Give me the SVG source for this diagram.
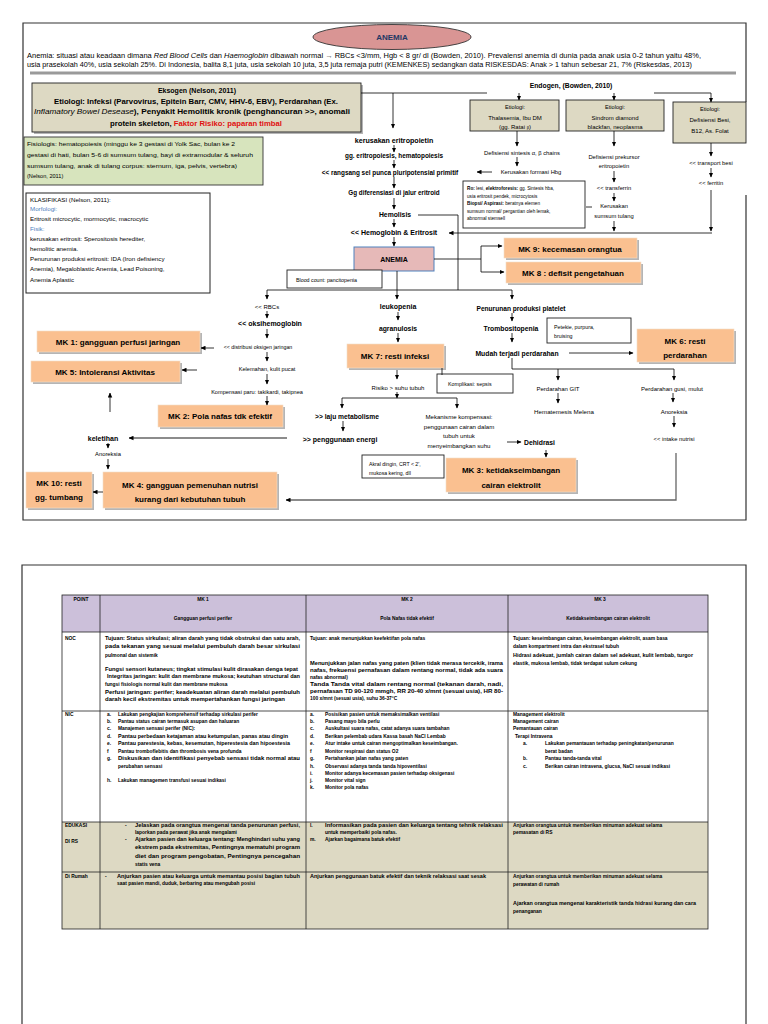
<svg xmlns="http://www.w3.org/2000/svg" width="768" height="1024" viewBox="0 0 768 1024">
<style>
text{font-family:"Liberation Sans",Arial,sans-serif;fill:#000}
.b{font-weight:bold}
.c{text-anchor:middle}
.ln{fill:none;stroke:#000;stroke-width:0.8}
.la{fill:none;stroke:#000;stroke-width:0.8;marker-end:url(#ah)}
.gl{fill:none;stroke:#666;stroke-width:1.3;marker-end:url(#ah)}
.kh{fill:#ddd9c3;stroke:#222;stroke-width:0.9}
.mk{fill:#fac090;stroke:#f2dcc8;stroke-width:0.6}
.sh{fill:#b5b5b5}
.wb{fill:#fff;stroke:#222;stroke-width:0.9}
.mt{font-weight:bold;font-size:8px;text-anchor:middle}
.tb{font-weight:bold;font-size:4.9px}
.tl{fill:none;stroke:#222;stroke-width:0.8}
.s{font-size:5.6px}
</style>
<defs>
<marker id="ah" viewBox="0 0 10 10" refX="9" refY="5" markerWidth="5" markerHeight="5" markerUnits="userSpaceOnUse" orient="auto"><path d="M0,0.5 L10,5 L0,9.5 z" fill="#000"/></marker>
</defs>
<rect width="768" height="1024" fill="#fff"/>

<path d="M746,195 V520 H23 V23 H746 V102" fill="none" stroke="#333" stroke-width="1.2"/>
<path d="M22,1024 V565 H746 V1024" fill="none" stroke="#333" stroke-width="1.2"/>

<g id="title">
<ellipse cx="392" cy="37" rx="79" ry="12.5" fill="#d99594" stroke="#333" stroke-width="0.9"/>
<text x="392" y="40" class="b c" font-size="8" style="fill:#1f3864">ANEMIA</text>
</g>

<g id="intro">
<text x="27" y="58" font-size="6.3" textLength="674" lengthAdjust="spacingAndGlyphs">Anemia: situasi atau keadaan dimana <tspan font-style="italic">Red Blood Cells</tspan> dan <tspan font-style="italic">Haemoglobin</tspan> dibawah normal → RBCs &lt;3/mm, Hgb &lt; 8 gr/ dl (Bowden, 2010).  Prevalensi anemia di dunia pada anak usia 0-2 tahun yaitu 48%,</text>
<text x="27" y="67" font-size="6.3" textLength="665" lengthAdjust="spacingAndGlyphs">usia prasekolah 40%, usia sekolah 25%. Di Indonesia, balita 8,1 juta, usia sekolah 10 juta, 3,5 juta remaja putri (KEMENKES) sedangkan data RISKESDAS: Anak &gt; 1 tahun sebesar 21, 7% (Riskesdas, 2013)</text>
<line x1="30" y1="73" x2="736" y2="73" stroke="#9a9a9a" stroke-width="3"/>
</g>

<g id="eksogen">
<rect x="34" y="85" width="329" height="49" class="sh"/>
<rect x="32" y="83" width="329" height="49" class="kh"/>
<text x="197" y="93" class="b c" font-size="7">Eksogen (Nelson, 2011)</text>
<text x="54" y="104" class="b" font-size="6.4" textLength="284" lengthAdjust="spacingAndGlyphs">Etiologi:  Infeksi (Parvovirus, Epitein Barr, CMV, HHV-6, EBV), Perdarahan (Ex.</text>
<text x="34" y="114" class="b" font-size="6.6" textLength="316" lengthAdjust="spacingAndGlyphs"><tspan font-style="italic" font-weight="normal">Inflamatory Bowel Desease</tspan>), Penyakit Hemolitik kronik (penghancuran &gt;&gt;, anomali</text>
<text x="110" y="126" class="b" font-size="6.6" textLength="172" lengthAdjust="spacingAndGlyphs">protein skeleton, <tspan style="fill:#e01010">Faktor Risiko: paparan timbal</tspan></text>
</g>

<g id="fisiologi">
<rect x="24" y="137" width="239" height="48" fill="#d7e4bd" stroke="#333" stroke-width="0.9"/>
<text x="27" y="146" class="s" textLength="208" lengthAdjust="spacingAndGlyphs">Fisiologis: hematopoiesis (minggu ke 3 gestasi di Yolk Sac, bulan ke 2</text>
<text x="27" y="157" class="s" textLength="226" lengthAdjust="spacingAndGlyphs">gestasi di hati, bulan 5-6 di sumsum tulang, bayi di extramodular &amp; seluruh</text>
<text x="27" y="168" class="s" textLength="210" lengthAdjust="spacingAndGlyphs">sumsum tulang, anak di tulang corpus: sternum, iga, pelvis, vertebra)</text>
<text x="27" y="178" class="s">(Nelson, 2011)</text>
</g>

<g id="klasifikasi">
<rect x="26" y="193" width="184" height="100" fill="#fff" stroke="#222" stroke-width="1"/>
<g font-size="6.2">
<text x="30" y="202">KLASIFIKASI (Nelson, 2011):</text>
<text x="30" y="211" style="fill:#4f81bd">Morfologi:</text>
<text x="30" y="221">Eritrosit microcytic, mormocytic, macrocytic</text>
<text x="30" y="230.5" style="fill:#4f81bd">Fisik:</text>
<text x="30" y="241">kerusakan eritrosit: Sperositosis herediter,</text>
<text x="30" y="251">hemolitic anemia.</text>
<text x="30" y="261">Penurunan produksi eritrosit: IDA (Iron defisiency</text>
<text x="30" y="271">Anemia), Megaloblastic Anemia, Lead Poisoning,</text>
<text x="30" y="282">Anemia Aplastic</text>
</g>
</g>

<g id="endogen-label"><text x="571" y="88" class="b c" font-size="6.8">Endogen, (Bowden, 2010)</text></g>

<g id="etiologi-thalasemia">
<rect x="470" y="100" width="89" height="31" class="kh"/>
<text x="515" y="109" class="c" font-size="5.6">Etiologi:</text>
<text x="515" y="120" class="c" font-size="6">Thalasemia, Ibu DM</text>
<text x="515" y="129" class="c" font-size="6">(gg. Ratai ᵦ)</text>
</g>
<g id="etiologi-sindrom">
<rect x="566" y="100" width="98" height="31" class="kh"/>
<text x="615" y="109" class="c" font-size="5.6">Etiologi:</text>
<text x="615" y="120" class="c" font-size="6">Sindrom diamond</text>
<text x="615" y="129" class="c" font-size="6">blackfan, neoplasma</text>
</g>
<g id="etiologi-defisiensi">
<rect x="673" y="102" width="73" height="41" class="kh"/>
<text x="710" y="111" class="c" font-size="5.6">Etiologi:</text>
<text x="710" y="122" class="c" font-size="6">Defisiensi Besi,</text>
<text x="710" y="133" class="c" font-size="6">B12, As. Folat</text>
</g>

<g id="endogen-chains" font-size="5.8">
<text x="522" y="155" class="c">Defisiensi sintesis α, β chains</text>
<text x="531" y="174" class="c">Kerusakan formasi Hbg</text>
<text x="614" y="159" class="c">Defisiensi prekursor</text>
<text x="614" y="168" class="c">eritropoietin</text>
<text x="614" y="190" class="c">&lt;&lt; transferrin</text>
<text x="614" y="208" class="c">Kerusakan</text>
<text x="614" y="218" class="c">sumsum tulang</text>
<text x="711" y="165" class="c">&lt;&lt; transport besi</text>
<text x="711" y="185" class="c">&lt;&lt; ferritin</text>
</g>

<g id="ro-box">
<rect x="463" y="181" width="122" height="47" class="wb"/>
<g font-size="4.7">
<text x="467" y="190"><tspan font-weight="bold">Ro:</tspan> lesi, <tspan font-weight="bold">elektroforesis:</tspan> gg. Sintesis hba,</text>
<text x="467" y="197.5">usia eritrosit pendek, microcytosis</text>
<text x="467" y="205"><tspan font-weight="bold">Biopsi/ Aspirasi:</tspan> beratnya elemen</text>
<text x="467" y="212.5">sumsum normal/ pergantian oleh lemak,</text>
<text x="467" y="220">abnormal stemsell</text>
</g>
</g>

<g id="main-chain" class="b">
<text x="394" y="142.5" class="c" font-size="7.1">kerusakan eritropoietin</text>
<text x="394" y="158" class="c" font-size="6.4">gg. eritropoiesis, hematopoiesis</text>
<text x="390" y="174.5" class="c" font-size="6.4">&lt;&lt; rangsang sel punca pluripotensial primitif</text>
<text x="394" y="195" class="c" font-size="6.3">Gg diferensiasi di jalur eritroid</text>
<text x="395" y="217" class="c" font-size="6.8">Hemolisis</text>
<text x="394" y="234.5" class="c" font-size="7">&lt;&lt; Hemoglobin &amp; Eritrosit</text>
</g>

<g id="anemia-box">
<rect x="354" y="247" width="80" height="24" fill="#e6b9b8" stroke="#4f81bd" stroke-width="1"/>
<text x="394" y="262" class="b c" font-size="7">ANEMIA</text>
</g>
<g id="blood-count">
<rect x="287" y="270" width="95" height="18" class="wb"/>
<text x="296" y="281.5" font-size="5.3">Blood count: pancitopenia</text>
</g>

<g id="mk9"><rect x="506" y="240" width="133" height="20" class="sh"/><rect x="504" y="238" width="133" height="20" class="mk"/><text x="570" y="251.5" class="mt">MK 9: kecemasan orangtua</text></g>
<g id="mk8"><rect x="508" y="264" width="135" height="21" class="sh"/><rect x="506" y="262" width="135" height="21" class="mk"/><text x="573" y="276" class="mt">MK 8 : defisit pengetahuan</text></g>

<g id="left-col">
<text x="267" y="309" class="c" font-size="6">&lt;&lt; RBCs</text>
<text x="270" y="325.5" class="b c" font-size="7">&lt;&lt; oksihemoglobin</text>
<text x="258" y="349" class="c" font-size="5.3">&lt;&lt; distribusi oksigen jaringan</text>
<text x="267" y="371" class="c" font-size="5.6">Kelemahan, kulit pucat</text>
<text x="257" y="394" class="c" font-size="5.6">Kompensasi paru: takikardi, takipnea</text>
<text x="103" y="440.5" class="b c" font-size="7">keletihan</text>
<text x="108" y="456" class="c" font-size="5.8">Anoreksia</text>
</g>
<g id="mk1"><rect x="39" y="333" width="163" height="21" class="sh"/><rect x="37" y="331" width="163" height="21" class="mk"/><text x="118" y="344.5" class="mt" font-size="7.2">MK 1: gangguan perfusi jaringan</text></g>
<g id="mk5"><rect x="33" y="363" width="149" height="21" class="sh"/><rect x="31" y="361" width="149" height="21" class="mk"/><text x="105" y="374.5" class="mt" font-size="6.8">MK 5: Intoleransi Aktivitas</text></g>
<g id="mk2"><rect x="160" y="407" width="125" height="22" class="sh"/><rect x="158" y="405" width="125" height="22" class="mk"/><text x="220" y="419" class="mt" font-size="6.8">MK 2: Pola nafas tdk efektif</text></g>
<g id="mk4"><rect x="105" y="474" width="174" height="36" class="sh"/><rect x="103" y="472" width="174" height="36" class="mk"/><text x="190" y="488" class="mt">MK 4: gangguan pemenuhan nutrisi</text><text x="190" y="502" class="mt">kurang dari kebutuhan tubuh</text></g>
<g id="mk10"><rect x="28" y="474" width="66" height="36" class="sh"/><rect x="26" y="472" width="66" height="36" class="mk"/><text x="59" y="486" class="mt" font-size="6.8">MK 10: resti</text><text x="59" y="500" class="mt" font-size="6.8">gg. tumbang</text></g>

<g id="mid-col">
<text x="398" y="309" class="b c" font-size="7">leukopenia</text>
<text x="398" y="331" class="b c" font-size="6.8">agranulosis</text>
<text x="398" y="390" class="c" font-size="6">Risiko &gt; suhu tubuh</text>
<text x="347" y="419" class="b c" font-size="6.7">&gt;&gt; laju metabolisme</text>
<text x="340" y="442" class="b c" font-size="7">&gt;&gt; penggunaan energi</text>
<text x="459" y="419" class="c" font-size="6.1">Mekanisme kompensasi:</text>
<text x="459" y="428.5" class="c" font-size="6.1">penggunaan cairan dalam</text>
<text x="459" y="438" class="c" font-size="6.1">tubuh untuk</text>
<text x="459" y="447.5" class="c" font-size="6.1">menyeimbangkan suhu</text>
<text x="524" y="445" class="b" font-size="6.8">Dehidrasi</text>
</g>
<g id="mk7"><rect x="349" y="346" width="97" height="24" class="sh"/><rect x="347" y="344" width="97" height="24" class="mk"/><text x="395" y="359" class="mt">MK 7: resti infeksi</text></g>
<g id="komplikasi"><rect x="437" y="374" width="76" height="19" class="wb"/><text x="448" y="386" font-size="5.3">Komplikasi: sepsis</text></g>
<g id="akral"><rect x="362" y="455" width="82" height="23" class="wb"/><text x="369" y="466" font-size="5.2">Akral dingin, CRT &lt; 2',</text><text x="369" y="474.5" font-size="5.2">mukosa kering, dll</text></g>
<g id="mk3"><rect x="448" y="460" width="130" height="34" class="sh"/><rect x="446" y="458" width="130" height="34" class="mk"/><text x="511" y="473" class="mt">MK 3: ketidakseimbangan</text><text x="511" y="488" class="mt">cairan elektrolit</text></g>

<g id="right-col">
<text x="521" y="311" class="b c" font-size="6.6">Penurunan produksi platelet</text>
<text x="511" y="330.5" class="b c" font-size="6.8">Trombositopenia</text>
<text x="517" y="355.5" class="b c" font-size="6.8">Mudah terjadi perdarahan</text>
<text x="558" y="391" class="c" font-size="6">Perdarahan GIT</text>
<text x="564" y="414" class="c" font-size="6.2">Hematemesis Melena</text>
<text x="672" y="391" class="c" font-size="6">Perdarahan gusi, mulut</text>
<text x="674" y="414" class="c" font-size="6">Anoreksia</text>
<text x="674" y="441" class="c" font-size="5.8">&lt;&lt; intake nutrisi</text>
</g>
<g id="petekie"><rect x="547" y="318" width="84" height="25" class="wb"/><text x="554" y="328.5" font-size="5.3">Petekie, purpura,</text><text x="554" y="338" font-size="5.3">bruising</text></g>
<g id="mk6"><rect x="639" y="331" width="97" height="33" class="sh"/><rect x="637" y="329" width="97" height="33" class="mk"/><text x="685" y="344" class="mt" font-size="8.4">MK 6: resti</text><text x="685" y="358" class="mt" font-size="8.4">perdarahan</text></g>

<g id="connectors">
<path class="ln" d="M361,93 H487 M654,93 H711"/>
<path class="la" d="M393,93 V128"/>
<path class="la" d="M519,93 V100"/>
<path class="la" d="M614,93 V100"/>
<path class="la" d="M711,93 V102"/>
<path class="la" d="M394,145 V152"/>
<path class="la" d="M394,160 V168"/>
<path class="la" d="M394,177 V188"/>
<path class="la" d="M394,198 V209"/>
<path class="la" d="M394,219 V227"/>
<path class="la" d="M394,237 V246"/>
<path class="la" d="M517,131 V146"/>
<path class="la" d="M517,157 V166"/>
<path class="la" d="M492,172 H477"/>
<path class="la" d="M614,131 V146"/>
<path class="la" d="M614,171 V182"/>
<path class="la" d="M614,193 V201"/>
<path class="la" d="M614,221 V231"/>
<path class="la" d="M711,143 V156"/>
<path class="la" d="M711,168 V177"/>
<path class="la" d="M711,190 V231"/>
<path class="la" d="M712,233 H449"/>
<path class="ln" d="M586,207 H592"/>
<path class="ln" d="M418,215 H458 V290"/>
<path class="ln" d="M434,259 H481 M481,246 V272"/>
<path class="la" d="M481,246 H502"/>
<path class="la" d="M481,272 H504"/>
<path class="ln" d="M397,271 V290 M267,290 H512"/>
<path class="la" d="M267,290 V299"/>
<path class="la" d="M397,290 V299"/>
<path class="la" d="M512,290 V299"/>
<path class="la" d="M267,311 V318"/>
<path class="la" d="M267,329 V338"/>
<path class="la" d="M214,348 H201"/>
<path class="la" d="M267,352 V361"/>
<path class="la" d="M197,370 H182"/>
<path class="la" d="M267,374 V384"/>
<path class="la" d="M267,396 V405"/>
<path class="la" d="M110,412 V393"/>
<path class="gl" d="M287,438 H129"/>
<path class="la" d="M108,443 V448"/>
<path class="la" d="M108,459 V469"/>
<path class="la" d="M103,492 H93"/>
<path class="gl" d="M676,453 V500 H286"/>
<path class="la" d="M398,312 V320"/>
<path class="la" d="M398,333 V342"/>
<path class="ln" d="M442,368 V375"/>
<path class="la" d="M397,370 V379"/>
<path class="la" d="M397,392 V398"/>
<path class="ln" d="M342,398 H457"/>
<path class="la" d="M342,398 V408"/>
<path class="la" d="M457,398 V408"/>
<path class="la" d="M343,421 V431"/>
<path class="la" d="M507,442 H521"/>
<path class="la" d="M546,450 V457"/>
<path class="la" d="M512,313 V321"/>
<path class="la" d="M512,333 V342"/>
<path class="la" d="M569,353 H633"/>
<path class="ln" d="M512,358 V369 H674"/>
<path class="la" d="M558,369 V380"/>
<path class="la" d="M674,369 V380"/>
<path class="la" d="M558,393 V403"/>
<path class="la" d="M673,393 V402"/>
<path class="la" d="M674,416 V427"/>
</g>

<g id="table">
<rect x="62" y="595" width="646" height="37" fill="#ccc0da"/>
<rect x="62" y="822" width="646" height="107" fill="#ddd9c3"/>
<rect x="62" y="595" width="646" height="334" class="tl" stroke-width="1"/>
<path class="tl" d="M100,595 V929 M306,595 V929 M508,595 V929 M62,632 H708 M62,711 H708 M62,822 H708 M62,872 H708"/>
<g class="tb">
<text x="81" y="601" class="c">POINT</text>
<text x="203" y="601" class="c">MK 1</text>
<text x="203" y="620" class="c">Gangguan perfusi perifer</text>
<text x="407" y="601" class="c">MK 2</text>
<text x="407" y="620" class="c">Pola Nafas tidak efektif</text>
<text x="600" y="601" class="c">MK 3</text>
<text x="608" y="620" class="c">Ketidakseimbangan cairan elektrolit</text>

<text x="65" y="640">NOC</text>
<text x="65" y="716">NIC</text>
<text x="65" y="827">EDUKASI</text>
<text x="65" y="843">DI RS</text>
<text x="65" y="878">Di Rumah</text>

<text x="105" y="640" textLength="195" lengthAdjust="spacingAndGlyphs">Tujuan: Status sirkulasi; aliran darah yang tidak obstruksi dan satu arah,</text>
<text x="105" y="648" textLength="195" lengthAdjust="spacingAndGlyphs">pada tekanan yang sesuai melalui pembuluh darah besar sirkulasi</text>
<text x="105" y="656.5">pulmonal dan sistemik</text>
<text x="105" y="670.5" textLength="193" lengthAdjust="spacingAndGlyphs">Fungsi sensori kutaneus; tingkat stimulasi kulit dirasakan denga tepat</text>
<text x="107" y="678" textLength="193" lengthAdjust="spacingAndGlyphs">Integritas jaringan: kulit dan membrane mukosa; keutuhan structural dan</text>
<text x="105" y="686">fungsi fisiologis normal kulit dan membrane mukosa</text>
<text x="105" y="693.5" textLength="195" lengthAdjust="spacingAndGlyphs">Perfusi jaringan: perifer; keadekuatan aliran darah melalui pembuluh</text>
<text x="105" y="701" textLength="180" lengthAdjust="spacingAndGlyphs">darah kecil ekstremitas untuk mempertahankan fungsi jaringan</text>

<text x="107" y="716">a.</text><text x="118" y="716">Lakukan pengkajian komprehensif terhadap sirkulasi perifer</text>
<text x="107" y="723">b.</text><text x="118" y="723">Pantau status cairan termasuk asupan dan haluaran</text>
<text x="107" y="730">c.</text><text x="118" y="730">Manajemen sensasi perifer (NIC):</text>
<text x="107" y="738">d.</text><text x="118" y="738" textLength="170" lengthAdjust="spacingAndGlyphs">Pantau perbedaan ketajaman atau ketumpulan, panas atau dingin</text>
<text x="107" y="745">e.</text><text x="118" y="745" textLength="172" lengthAdjust="spacingAndGlyphs">Pantau parestesia, kebas, kesemutan, hiperestesia dan hipoestesia</text>
<text x="107" y="753">f</text><text x="118" y="753">Pantau tromboflebitis dan thrombosis vena profunda</text>
<text x="107" y="760">g.</text><text x="118" y="760" textLength="182" lengthAdjust="spacingAndGlyphs">Diskusikan dan identifikasi penyebab sensasi tidak normal atau</text>
<text x="118" y="768">perubahan sensasi</text>
<text x="107" y="782">h.</text><text x="118" y="782">Lakukan managemen transfusi sesuai indikasi</text>

<text x="310" y="640">Tujuan: anak menunjukkan keefektifan pola nafas</text>
<text x="310" y="665" textLength="193" lengthAdjust="spacingAndGlyphs">Menunjukkan jalan nafas yang paten (klien tidak merasa tercekik, irama</text>
<text x="310" y="672" textLength="193" lengthAdjust="spacingAndGlyphs">nafas, frekuensi pernafasan dalam rentang normal, tidak ada suara</text>
<text x="310" y="679">nafas abnormal)</text>
<text x="310" y="686" textLength="193" lengthAdjust="spacingAndGlyphs">Tanda Tanda vital dalam rentang normal (tekanan darah, nadi,</text>
<text x="310" y="693" textLength="193" lengthAdjust="spacingAndGlyphs">pernafasan  TD 90-120 mmgh, RR 20-40 x/mnt (sesuai usia), HR 80-</text>
<text x="310" y="700">100 x/mnt (sesuai usia), suhu 36-37°C</text>

<text x="310" y="716">a.</text><text x="325" y="716">Posisikan pasien untuk memaksimalkan ventilasi</text>
<text x="310" y="723">b.</text><text x="325" y="723">Pasang mayo bila perlu</text>
<text x="310" y="730">c.</text><text x="325" y="730">Auskultasi suara nafas, catat adanya suara tambahan</text>
<text x="310" y="738">d.</text><text x="325" y="738">Berikan pelembab udara Kassa basah NaCl Lembab</text>
<text x="310" y="745">e.</text><text x="325" y="745">Atur intake untuk cairan mengoptimalkan keseimbangan.</text>
<text x="310" y="753">f</text><text x="325" y="753">Monitor respirasi dan status O2</text>
<text x="310" y="760">g.</text><text x="325" y="760">Pertahankan jalan nafas yang paten</text>
<text x="310" y="768">h.</text><text x="325" y="768">Observasi adanya tanda tanda hipoventilasi</text>
<text x="310" y="775">i.</text><text x="325" y="775">Monitor adanya kecemasan pasien terhadap oksigenasi</text>
<text x="310" y="782">j.</text><text x="325" y="782">Monitor vital sign</text>
<text x="310" y="789">k.</text><text x="325" y="789">Monitor pola nafas</text>

<text x="513" y="640">Tujuan: keseimbangan cairan, keseimbangan elektrolit, asam basa</text>
<text x="513" y="648">dalam kompartment intra dan ekstrasel tubuh</text>
<text x="513" y="657" textLength="180" lengthAdjust="spacingAndGlyphs">Hidrasi adekuat, jumlah cairan dalam sel adekuat, kulit lembab, turgor</text>
<text x="513" y="664.5">elastik, mukosa lembab, tidak terdapat sulum cekung</text>

<text x="513" y="716">Management elektrolit</text>
<text x="513" y="723">Management cairan</text>
<text x="513" y="730">Pemantauan cairan</text>
<text x="515" y="738">Terapi Intravena</text>
<text x="523" y="745">a.</text><text x="545" y="745">Lakukan pemantauan terhadap peningkatan/penurunan</text>
<text x="545" y="753">berat badan</text>
<text x="523" y="760">b.</text><text x="545" y="760">Pantau tanda-tanda vital</text>
<text x="523" y="768">c.</text><text x="545" y="768">Berikan cairan intravena, glucsa, NaCl sesuai indikasi</text>

<text x="125" y="827">-</text><text x="135" y="827" textLength="165" lengthAdjust="spacingAndGlyphs">Jelaskan pada orangtua mengenai tanda penurunan perfusi,</text>
<text x="135" y="833.5">laporkan pada perawat jika anak mengalami</text>
<text x="125" y="841">-</text><text x="135" y="841" textLength="165" lengthAdjust="spacingAndGlyphs">Ajarkan pasien dan keluarga tentang: Menghindari suhu yang</text>
<text x="135" y="849" textLength="165" lengthAdjust="spacingAndGlyphs">ekstrem pada ekstremitas,    Pentingnya mematuhi program</text>
<text x="135" y="857.5" textLength="165" lengthAdjust="spacingAndGlyphs">diet dan program pengobatan,     Pentingnya pencegahan</text>
<text x="135" y="866">statis vena</text>

<text x="310" y="827">l.</text><text x="325" y="827" textLength="178" lengthAdjust="spacingAndGlyphs">Informasikan pada pasien dan keluarga tentang tehnik relaksasi</text>
<text x="325" y="833.5">untuk memperbaiki pola nafas.</text>
<text x="310" y="841">m.</text><text x="325" y="841">Ajarkan bagaimana batuk efektif</text>

<text x="513" y="827">Anjurkan orangtua untuk memberikan minuman adekuat selama</text>
<text x="513" y="834">pemasatan di RS</text>

<text x="105" y="878">-</text><text x="117" y="878" textLength="183" lengthAdjust="spacingAndGlyphs">Anjurkan pasien atau keluarga untuk memantau posisi bagian tubuh</text>
<text x="117" y="885">saat pasien mandi, duduk, berbaring atau mengubah posisi</text>

<text x="310" y="878" textLength="176" lengthAdjust="spacingAndGlyphs">Anjurkan penggunaan batuk efektif dan teknik relaksasi saat sesak</text>

<text x="513" y="878">Anjurkan orangtua untuk memberikan minuman adekuat selama</text>
<text x="513" y="886">perawatan di rumah</text>
<text x="513" y="905" textLength="183" lengthAdjust="spacingAndGlyphs">Ajarkan orangtua mengenai karakteristik tanda hidrasi kurang dan cara</text>
<text x="513" y="913">penanganan</text>
</g>
</g>
</svg>
